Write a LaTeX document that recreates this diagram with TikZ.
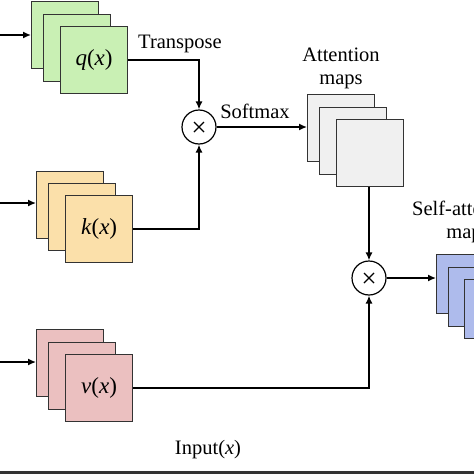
\documentclass[tikz,border=0pt]{standalone}
\usepackage{fontspec}
\setmainfont{Liberation Serif}
\usetikzlibrary{arrows.meta}
\definecolor{qfill}{HTML}{C9F0B4}
\definecolor{kfill}{HTML}{FBE0AA}
\definecolor{vfill}{HTML}{EBC0C0}
\definecolor{afill}{HTML}{F0F0F0}
\definecolor{bfill}{HTML}{AEBBEC}
\definecolor{edge}{HTML}{333333}
\tikzset{
  card/.style={draw=edge, line width=1.2pt, minimum width=67pt, minimum height=67pt, inner sep=0pt, anchor=north west},
  smallcard/.style={card, minimum width=59pt, minimum height=59pt},
  conn/.style={line width=1.4pt, draw=black},
  arr/.style={conn, -{Latex[length=8pt,width=7pt]}},
  mult/.style={circle, draw=black, line width=1.2pt, minimum size=34pt, inner sep=0pt, fill=white},
  lbl/.style={font=\fontsize{20.5}{23}\selectfont, inner sep=0pt, align=center},
  inlbl/.style={font=\fontsize{23}{25}\selectfont, inner sep=0pt}
}
\begin{document}
\begin{tikzpicture}[x=1pt,y=-1pt]
\useasboundingbox (0,0) rectangle (474,474);
\clip (0,0) rectangle (474,474);
\fill[white] (0,0) rectangle (474,474);
% q stack
\node[card, fill=qfill] (qa) at (31,1) {};
\node[card, fill=qfill] (qb) at (43,14) {};
\node[card, fill=qfill] (qc) at (60,26) {};
\node[inlbl] (qt) at (qc.center) {\textit{q}(\textit{x})};
% k stack
\node[card, fill=kfill] (ka) at (36,171) {};
\node[card, fill=kfill] (kb) at (48,183) {};
\node[card, fill=kfill] (kc) at (65,195) {};
\node[inlbl] (kt) at (kc.center) {\textit{k}(\textit{x})};
% v stack
\node[card, fill=vfill] (va) at (36,329) {};
\node[card, fill=vfill] (vb) at (48,342) {};
\node[card, fill=vfill] (vc) at (65,354) {};
\node[inlbl] (vt) at (vc.center) {\textit{v}(\textit{x})};
% attention maps
\node[card, fill=afill] (aa) at (307,94) {};
\node[card, fill=afill] (ab) at (319,107) {};
\node[card, fill=afill] (ac) at (336,119) {};
% self-attention maps
\node[smallcard, fill=bfill] (ba) at (436,254) {};
\node[smallcard, fill=bfill] (bb) at (448,267) {};
\node[smallcard, fill=bfill] (bc) at (464,279) {};
% multipliers
\node[mult] (m1) at (199,127) {};
\node[mult] (m2) at (369,278) {};
\foreach \m in {m1,m2}{
  \draw[line width=1.3pt] ([shift={(-5,-5)}]\m.center) -- ([shift={(5,5)}]\m.center);
  \draw[line width=1.3pt] ([shift={(-5,5)}]\m.center) -- ([shift={(5,-5)}]\m.center);
}
% inputs
\coordinate (iq) at (0,35);
\coordinate (ik) at (0,203);
\coordinate (iv) at (0,362);
\draw[arr] (iq) -- (iq -| qa.west);
\draw[arr] (ik) -- (ik -| ka.west);
\draw[arr] (iv) -- (iv -| va.west);
% connectors
\draw[arr] (qc.east) -| (m1.north);
\draw[arr] (kc.east) -| (m1.south);
\draw[arr] (m1.east) -- (m1.east -| aa.west);
\draw[arr] (m2.north |- ac.south) -- (m2.north);
\draw[arr] (vc.east) -| (m2.south);
\draw[arr] (m2.east) -- (m2.east -| ba.west);
% labels
\node[lbl] (tr) at (180,44) {Transpose};
\node[lbl] (sm) at (255,111) {Softmax};
\node[lbl] (am) at (341,68) {Attention\\maps};
\node[lbl] (sa) at (468,222) {Self-attention\\maps};
\node[lbl] (in) at (208,450) {Input(\textit{x})};
% bottom rule
\fill[edge] (0,471) rectangle (474,474);
\end{tikzpicture}
\end{document}
